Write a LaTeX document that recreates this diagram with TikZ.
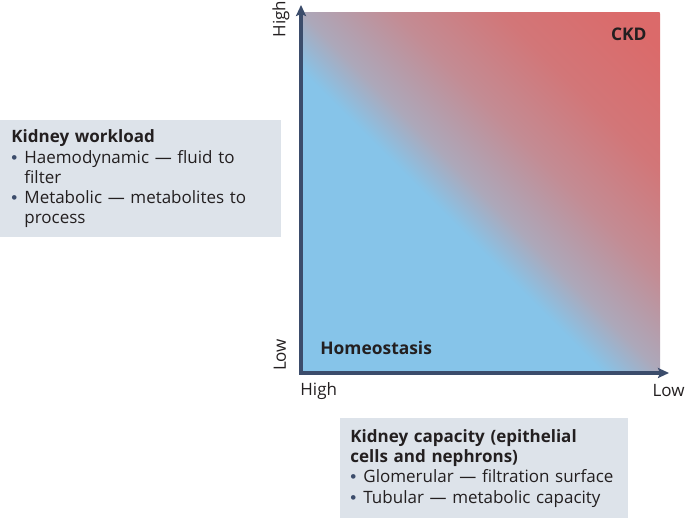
\documentclass[tikz,border=0pt]{standalone}
\usepackage{fontspec}
\setmainfont{Open Sans}
\newfontfamily\dotfont{Liberation Sans}
\usetikzlibrary{positioning,arrows.meta,calc}
\definecolor{AxisNavy}{RGB}{59,76,107}
\definecolor{PanelGray}{RGB}{221,227,234}
\definecolor{InkDark}{RGB}{35,31,32}
\definecolor{HomeoBlue}{RGB}{134,196,233}
\definecolor{MidMauve}{RGB}{172,168,186}
\definecolor{MidRose}{RGB}{195,140,148}
\definecolor{WarmRose}{RGB}{210,118,120}
\definecolor{CkdRed}{RGB}{219,106,106}
% diagonal of the field is 507 units = 252.6bp
\pgfdeclarehorizontalshading{loadshade}{256bp}{color(0bp)=(HomeoBlue); color(106bp)=(HomeoBlue); color(126.3bp)=(MidMauve); color(159.1bp)=(MidRose); color(197bp)=(WarmRose); color(240bp)=(CkdRed); color(252.6bp)=(CkdRed)}
\newcommand{\itemdot}{\makebox[6.5pt][l]{\dotfont\textcolor{AxisNavy}{\textbullet}}}

\begin{document}
\begin{tikzpicture}[x=0.5pt, y=0.5pt, every node/.style={font=\fontsize{8.5}{10.15}\selectfont, text=InkDark, inner sep=0pt}]
  \tikzset{
    infobox/.style={fill=PanelGray, anchor=north west, align=left, inner ysep=0pt},
    axisline/.style={line width=1.6pt, AxisNavy, {Stealth[length=5.5pt, width=5pt, inset=1pt]}-{Stealth[length=5.5pt, width=5pt, inset=1pt]}},
    zone/.style={font=\fontsize{8.7}{10}\selectfont\bfseries}
  }
  \useasboundingbox (0,0) rectangle (685,518);
  % workload vs capacity field
  \begin{scope}
    \clip (302,146) rectangle (660,505);
    \node[rotate=45] (field) at (481,325.5) {\pgfuseshading{loadshade}};
  \end{scope}
  \coordinate (origin) at (301,145);
  \coordinate (ytip) at (301,513);
  \coordinate (xtip) at (669,145);
  \draw[axisline] (ytip) -- (origin) -- (xtip);
  \node[rotate=90] (yhigh) at (281,499) {High};
  \node[rotate=90] (ylow) at (280,163) {Low};
  \node[anchor=base west] (xhigh) at (300,122) {High};
  \node[anchor=base east] (xlow) at (685,121) {Low};
  \node[zone, anchor=base east] (ckd) at (647,477) {CKD};
  \node[zone, anchor=base west] (homeo) at (320,163) {Homeostasis};
  % panels
  \node[infobox, inner xsep=5.5pt, text width=129.5pt, minimum height=58.5pt] (workload) at (0,398)
    {\textbf{Kidney workload}\\
     \itemdot Haemodynamic — fluid to\\
     \hspace*{6.5pt}filter\\
     \itemdot Metabolic — metabolites to\\
     \hspace*{6.5pt}process};
  \node[infobox, inner xsep=5pt, text width=134pt, minimum height=50pt] (capacity) at (340,100)
    {\textbf{Kidney capacity (epithelial}\\
     \textbf{cells and nephrons)}\\
     \itemdot Glomerular — filtration surface\\
     \itemdot Tubular — metabolic capacity};
\end{tikzpicture}
\end{document}
